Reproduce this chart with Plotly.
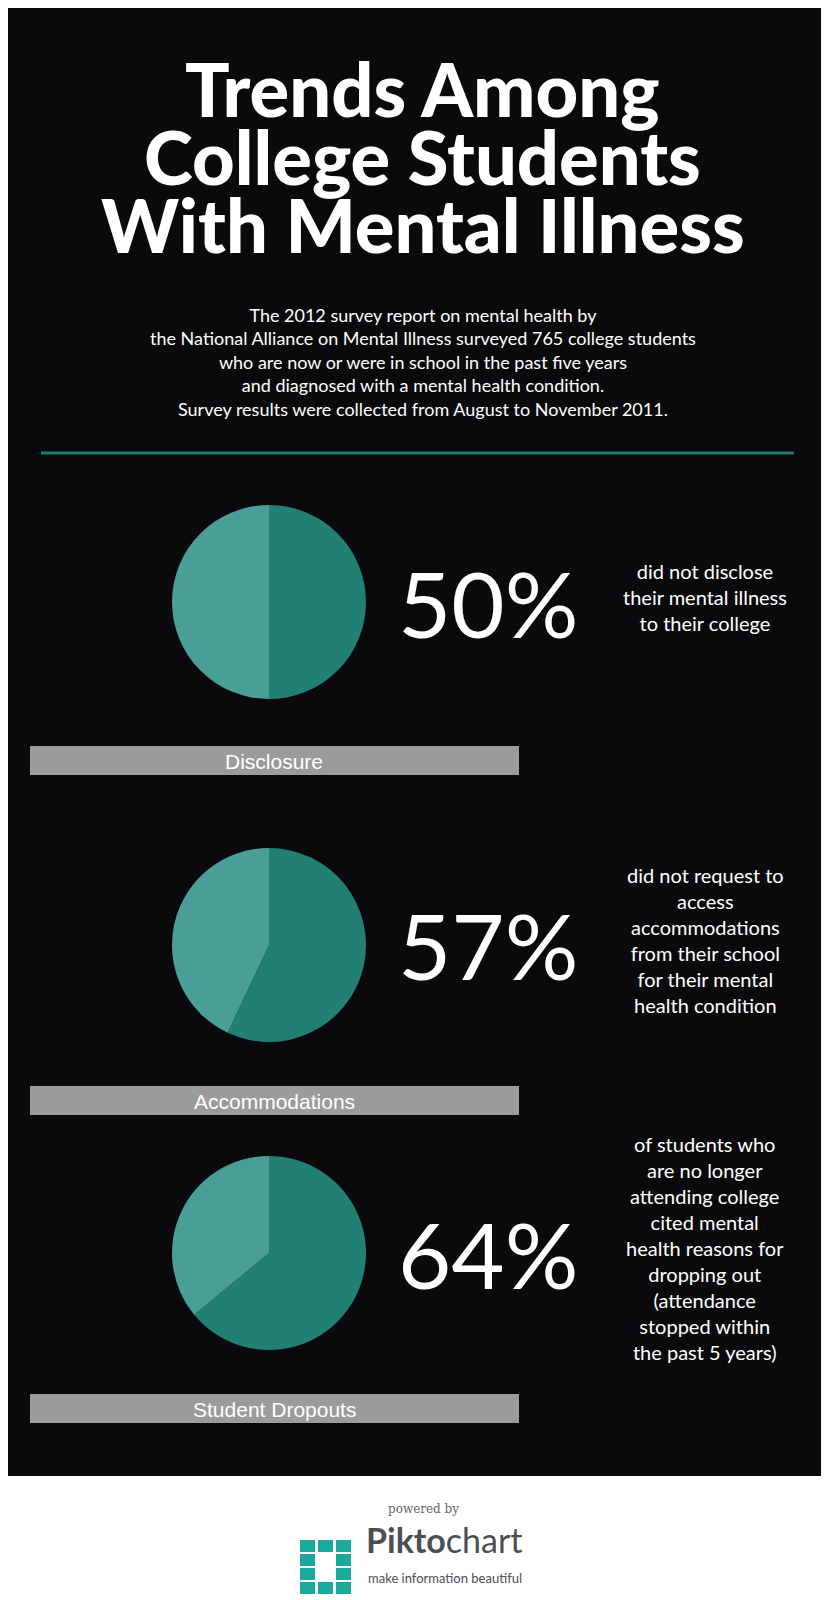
import plotly.graph_objects as go

W, H = 829, 1600

# data
title_lines = ["Trends Among", "College Students", "With Mental Illness"]
categories = ["Disclosure", "Accommodations", "Student Dropouts"]
percents = [50, 57, 64]
descriptions = [
    "did not disclose<br>their mental illness<br>to their college",
    "did not request to<br>access<br>accommodations<br>from their school<br>for their mental<br>health condition",
    "of students who<br>are no longer<br>attending college<br>cited mental<br>health reasons for<br>dropping out<br>(attendance<br>stopped within<br>the past 5 years)",
]
pie_centers_y = [594, 937, 1245]
bar_tops_y = [738, 1078, 1386]

DARK = "#217f74"
LIGHT = "#4a9e98"
BG = "#0a0a0c"


def px(x):
    return x / W


def py(y):
    return 1 - y / H


fig = go.Figure()
shapes = []
annotations = []

for cat, pct, desc, cy, by in zip(categories, percents, descriptions, pie_centers_y, bar_tops_y):
    r = 97
    fig.add_trace(go.Pie(
        values=[pct, 100 - pct],
        labels=[cat, "other"],
        marker=dict(colors=[DARK, LIGHT], line=dict(width=0)),
        sort=False, direction="clockwise", rotation=0,
        textinfo="none", hoverinfo="skip", showlegend=False,
        domain=dict(x=[px(261 - r), px(261 + r)], y=[py(cy + r), py(cy - r)]),
    ))
    annotations.append(dict(x=px(480), y=py(cy), text=f"{pct}%", showarrow=False,
                            font=dict(family="Lato", size=92, color="white", weight=400),
                            xanchor="center", yanchor="middle"))
    annotations.append(dict(x=px(697), y=py(cy - 5), text=desc, showarrow=False,
                            font=dict(family="Lato", size=20, color="white"),
                            xanchor="center", yanchor="middle", align="center"))
    shapes.append(dict(type="rect", xref="paper", yref="paper", x0=px(22), x1=px(511),
                       y0=py(by + 29), y1=py(by), fillcolor="#9b9b9b", line=dict(width=0), layer="below"))
    annotations.append(dict(x=px(266), y=py(by + 15), text=cat, showarrow=False,
                            font=dict(family="Liberation Sans", size=21, color="white"),
                            xanchor="center", yanchor="middle"))

# title, one line per annotation to keep the tight leading
for i, line in enumerate(title_lines):
    annotations.append(dict(x=0.5, y=py(80 + i * 68), text=line,
                            showarrow=False, xanchor="center", yanchor="middle",
                            font=dict(family="Lato", size=74, color="white", weight=900)))
annotations.append(dict(x=0.5, y=py(354), showarrow=False, xanchor="center", yanchor="middle", align="center",
                        text="The 2012 survey report on mental health by<br>"
                             "the National Alliance on Mental Illness surveyed 765 college students<br>"
                             "who are now or were in school in the past five years<br>"
                             "and diagnosed with a mental health condition.<br>"
                             "Survey results were collected from August to November 2011.",
                        font=dict(family="Lato", size=18, color="white")))
shapes.append(dict(type="line", xref="paper", yref="paper", x0=px(33), x1=px(786),
                   y0=py(445), y1=py(445), line=dict(color="#1f7a6a", width=3)))

# footer
shapes.append(dict(type="rect", xref="paper", yref="paper", x0=0, x1=1, y0=0, y1=py(1468),
                   fillcolor="white", line=dict(width=0), layer="below"))
annotations.append(dict(x=px(415), y=py(1510), text="powered by", showarrow=False,
                        font=dict(family="DejaVu Serif", size=12, color="#666")))
annotations.append(dict(x=px(356), y=py(1554), text="<b>Pikto</b>chart", showarrow=False, xanchor="left",
                        font=dict(family="Lato", size=34, color="#4a4f52")))
annotations.append(dict(x=px(358), y=py(1580), text="make information beautiful", showarrow=False, xanchor="left",
                        font=dict(family="Lato", size=13, color="#4a4f52")))
for col in range(3):
    for row in range(4):
        if col == 1 and row in (1, 2):
            continue
        x0 = 292 + col * 18
        y0 = 1532 + row * 14
        shapes.append(dict(type="rect", xref="paper", yref="paper", x0=px(x0), x1=px(x0 + 15),
                           y0=py(y0 + 12), y1=py(y0), fillcolor="#1aa99a", line=dict(width=0)))

fig.update_layout(width=W, height=H, margin=dict(l=0, r=0, t=0, b=0),
                  paper_bgcolor=BG, plot_bgcolor=BG, shapes=shapes, annotations=annotations)
fig.write_html("out.html")
